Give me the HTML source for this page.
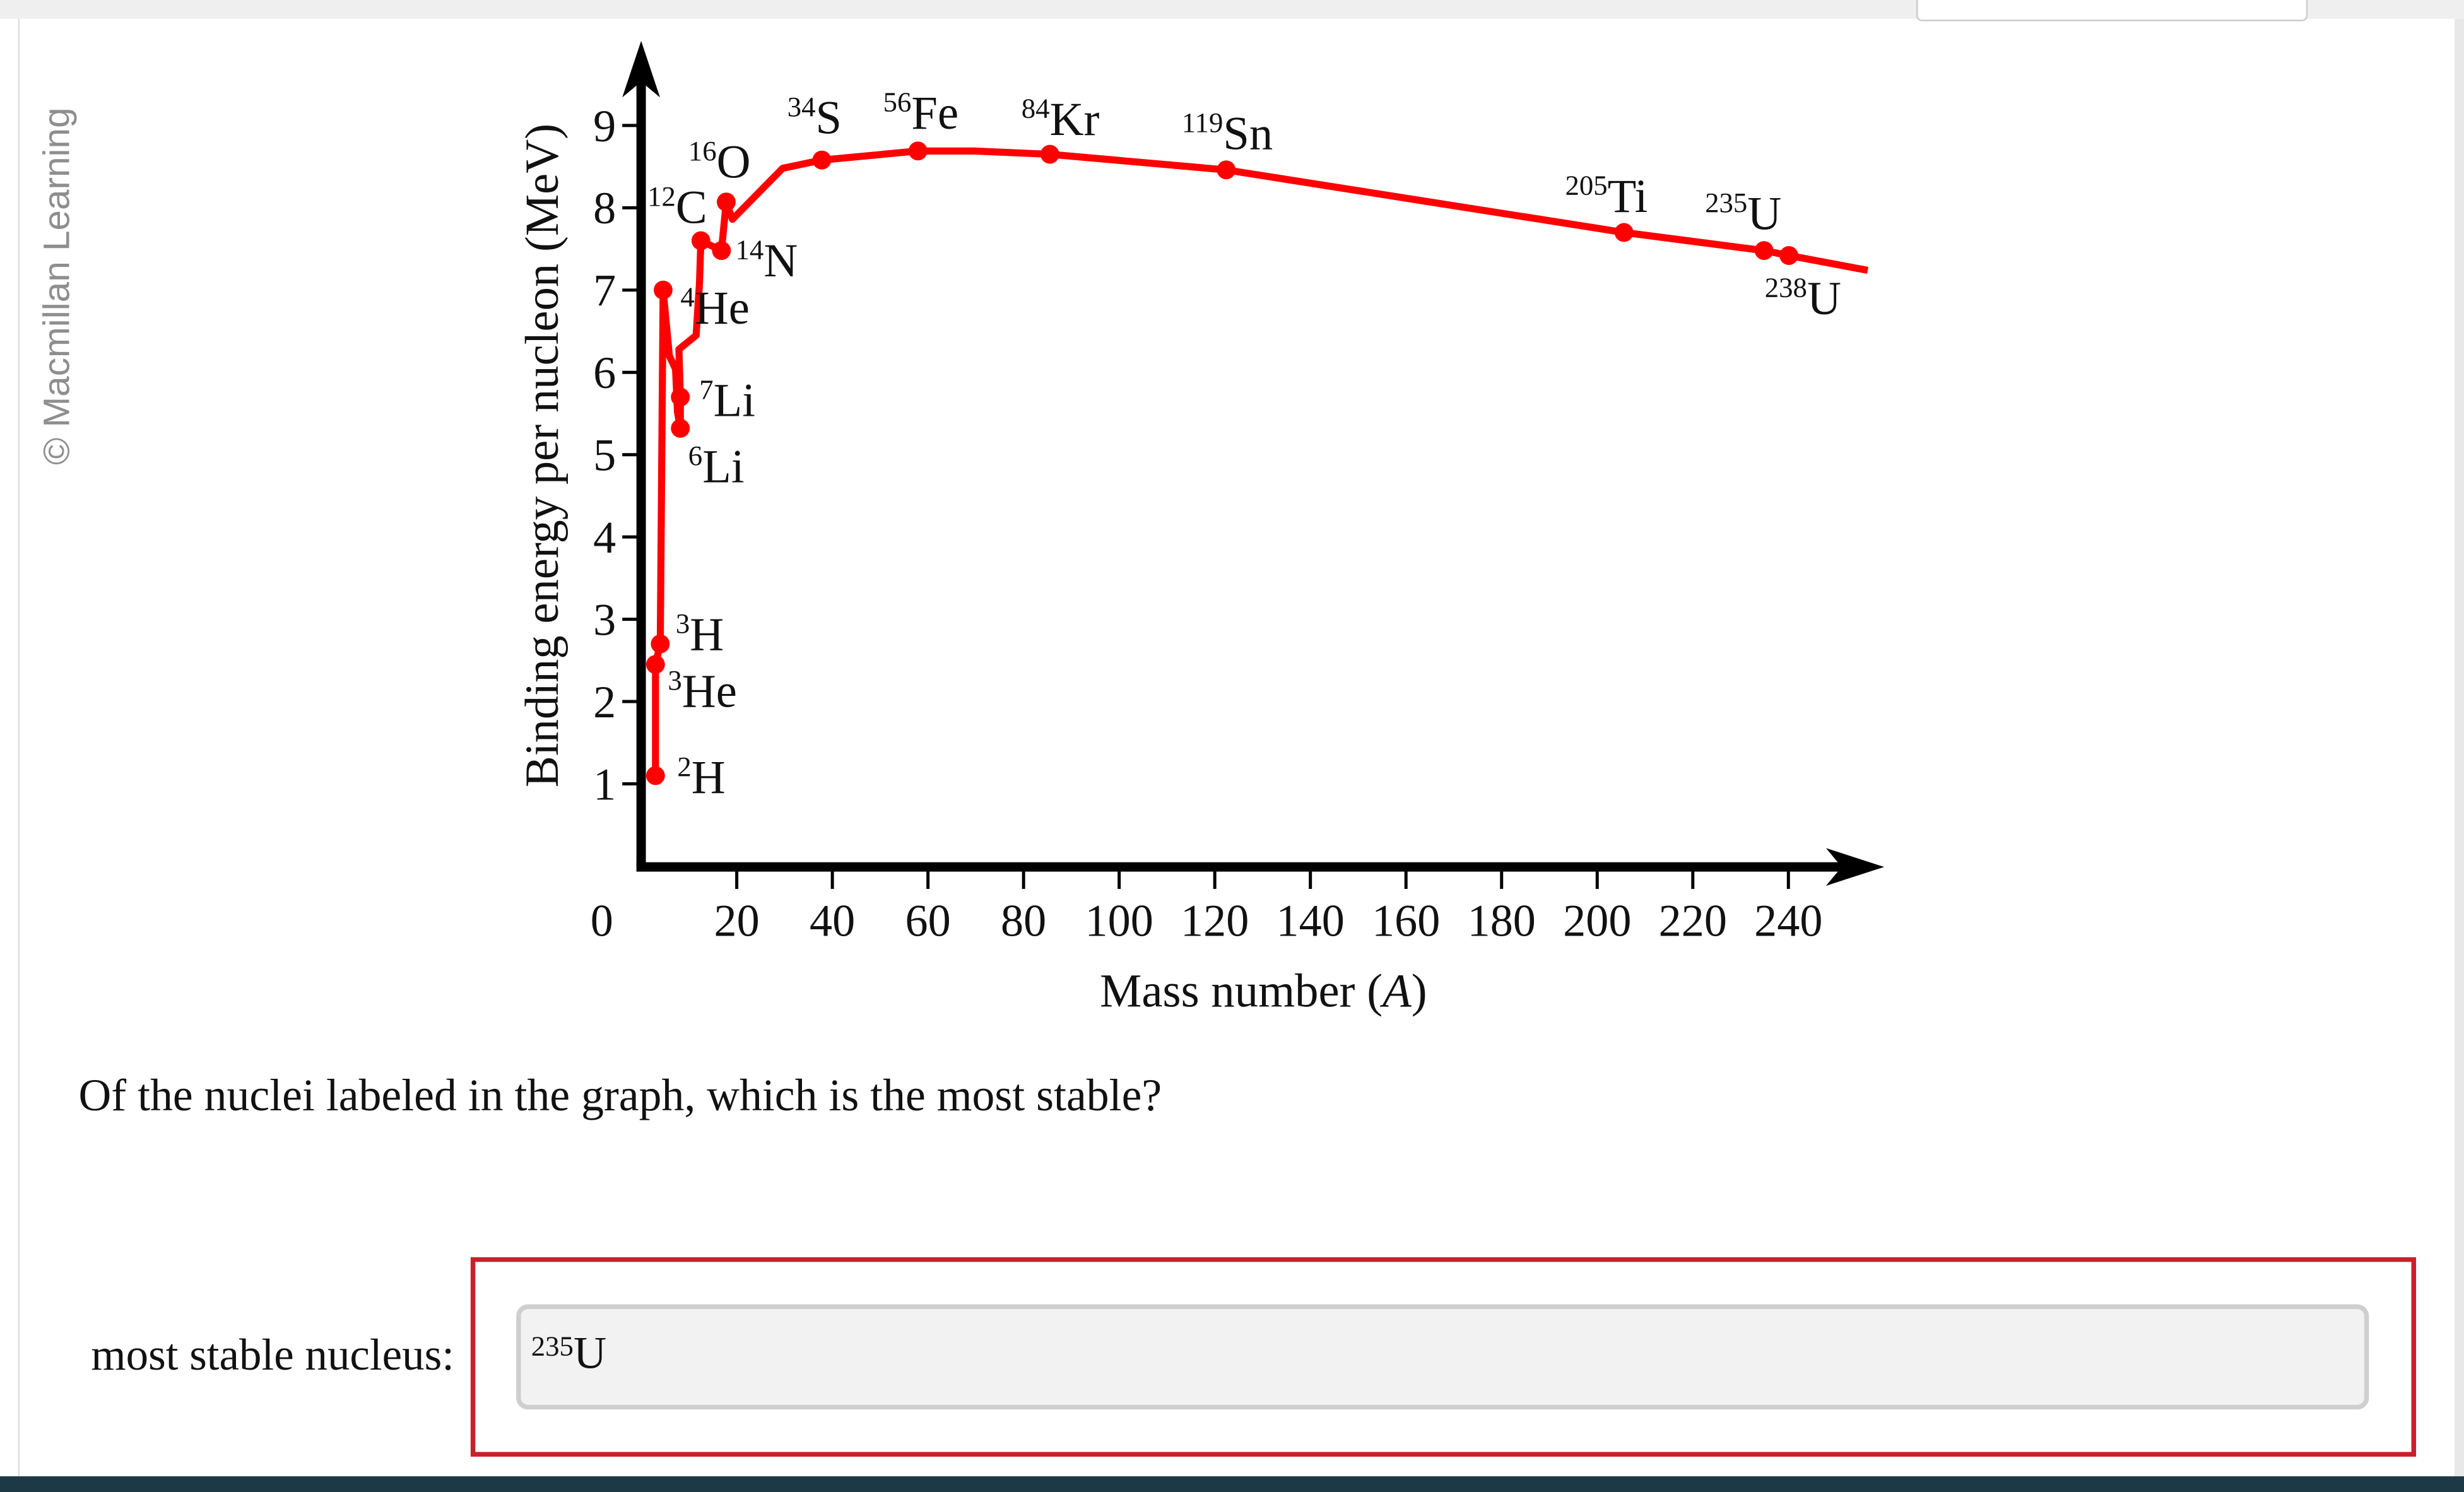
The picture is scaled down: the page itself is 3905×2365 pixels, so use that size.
<!DOCTYPE html>
<html><head><meta charset="utf-8"><style>
html,body{margin:0;padding:0;background:#fff;}
svg{display:block;}
text{font-family:"Liberation Serif",serif;fill:#111;}
</style></head><body>
<svg id="chart" width="3905" height="2365" viewBox="0 0 1568 950" preserveAspectRatio="none" xmlns="http://www.w3.org/2000/svg">
<rect x="0" y="0" width="1568" height="950" fill="#fff"/>
<rect x="0" y="0" width="1568" height="12" fill="#efefef"/>
<line x1="12" y1="12" x2="12" y2="940" stroke="#ddd" stroke-width="1"/>
<rect x="1220" y="-4" width="248" height="17" rx="3" fill="#fff" stroke="#ccc"/>
<rect x="1562" y="12" width="6" height="930" fill="#e8e8e8"/>
<rect x="0" y="940" width="1568" height="10" fill="#1d3945"/>
<text transform="translate(44,296) rotate(-90)" style="font-family:'Liberation Sans',sans-serif;font-size:23.5px;fill:#8e8e8e">© Macmillan Learning</text>
<g id="plot"></g>
<text transform="translate(355,290) rotate(-90)" text-anchor="middle" font-size="30">Binding energy per nucleon (MeV)</text>
<text x="804" y="641" text-anchor="middle" font-size="30">Mass number (<tspan font-style="italic">A</tspan>)</text>
<text x="50" y="707" font-size="28.8">Of the nuclei labeled in the graph, which is the most stable?</text>
<text x="58" y="872" font-size="28.5">most stable nucleus:</text>
<rect x="301" y="802" width="1235" height="124" fill="none" stroke="#cc1f2b" stroke-width="3"/>
<rect x="330" y="832" width="1176" height="64" rx="6" fill="#f2f2f2" stroke="#cfcfcf" stroke-width="3"/>
<text x="338" y="871" font-size="29"><tspan font-size="18" dy="-8">235</tspan><tspan dy="8">U</tspan></text>
</svg>
<script>
const yTicks=[1,2,3,4,5,6,7,8,9];
const xTicks=[20,40,60,80,100,120,140,160,180,200,220,240];
const lineA=[3,3,4,4.6,5.9,7.2,7.6,8.2,8.2,7.9,11.5,12.2,12.5,16.8,17.8,19.1,29.6,37.8,57.9,69.7,85.5,122.4,205.6,234.9,240.1,256.6];
const lineE=[1.1,2.45,2.7,7.0,6.2,6.04,5.52,5.32,5.7,6.28,6.45,7.08,7.6,7.48,8.07,7.86,8.48,8.58,8.69,8.69,8.65,8.46,7.70,7.48,7.42,7.24];
const nucA=[3,3,4,4.6,8.2,8.2,12.5,16.8,17.8,37.8,57.9,85.5,122.4,205.6,234.9,240.1];
const nucE=[1.1,2.45,2.7,7.0,5.32,5.7,7.6,7.48,8.07,8.58,8.69,8.65,8.46,7.70,7.48,7.42];
const nucMass=["2","3","3","4","6","7","12","14","16","34","56","84","119","205","235","238"];
const nucSym=["H","He","H","He","Li","Li","C","N","O","S","Fe","Kr","Sn","Ti","U","U"];
const labX=[431,425,430,433,438,445,412,468,438,501,562,650,752,996,1085,1123];
const labY=[505,450,414,206,307,265,142,176,113,85,82,86,95,135,146,200];
const NS="http://www.w3.org/2000/svg";
const X=a=>408+a*3.042, Y=e=>551.5-e*52.4;
const g=document.getElementById('plot');
function mk(t,at){const e=document.createElementNS(NS,t);for(const k in at)e.setAttribute(k,at[k]);g.appendChild(e);return e;}
let ax=mk('line',{x1:408,y1:552,x2:408,y2:48,stroke:'#000','stroke-width':6});


let ah=mk('polygon',{points:'408,26 396,62 408,52 420,62',fill:'#000'});


let bx=mk('line',{x1:405,y1:552,x2:1175,y2:552,stroke:'#000','stroke-width':6});


let bh=mk('polygon',{points:'1199,552 1162,540 1172,552 1162,564',fill:'#000'});


yTicks.forEach(v=>{
 let l=mk('line',{x1:396,y1:Y(v),x2:408,y2:Y(v),stroke:'#000','stroke-width':2});
 
 
 let t=mk('text',{x:392,y:Y(v)+10,'text-anchor':'end','font-size':29});t.textContent=v;
 
 
});
xTicks.forEach(v=>{
 let l=mk('line',{x1:X(v),y1:552,x2:X(v),y2:566,stroke:'#000','stroke-width':2});
 
 
 let t=mk('text',{x:X(v),y:596,'text-anchor':'middle','font-size':29});t.textContent=v;
 
 
});
let z=mk('text',{x:383,y:596,'text-anchor':'middle','font-size':29});z.textContent='0';


let pl=mk('polyline',{points:lineA.map((a,i)=>X(a)+','+Y(lineE[i])).join(' '),fill:'none',stroke:'#f00','stroke-width':4.5,'stroke-linejoin':'round'});


nucA.forEach((a,i)=>{
 let c=mk('circle',{cx:X(a),cy:Y(nucE[i]),r:6,fill:'#f00'});
 
 
 let t=mk('text',{x:labX[i],y:labY[i],'font-size':30});
 t.innerHTML='<tspan font-size="18" dy="-11">'+nucMass[i]+'</tspan><tspan dy="11">'+nucSym[i]+'</tspan>';
 
 
});
</script>
</body></html>
